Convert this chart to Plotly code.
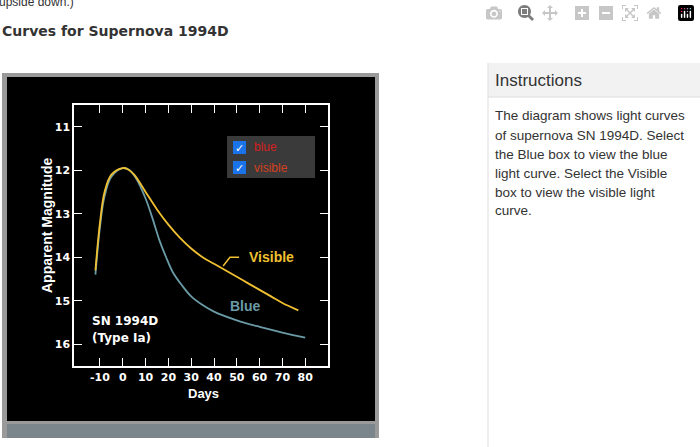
import plotly.graph_objects as go

vis_days = [-12, -10, -8, -5, 0, 2, 5, 10, 15, 20, 25, 30, 35, 40, 45, 50, 55, 60, 65, 70, 77]
vis_mag = [14.3, 13.2, 12.5, 12.1, 11.95, 11.97, 12.1, 12.5, 12.9, 13.25, 13.55, 13.8, 14.0, 14.15, 14.3, 14.45, 14.6, 14.75, 14.9, 15.05, 15.22]
blue_days = [-12, -10, -8, -5, 0, 3, 6, 10, 13, 16, 19, 22, 26, 30, 35, 40, 50, 60, 70, 80]
blue_mag = [14.4, 13.3, 12.6, 12.15, 11.95, 12.0, 12.2, 12.65, 13.1, 13.6, 14.0, 14.35, 14.65, 14.9, 15.1, 15.25, 15.45, 15.6, 15.73, 15.85]
x_ticks = [-10, 0, 10, 20, 30, 40, 50, 60, 70, 80]
y_ticks = [11, 12, 13, 14, 15, 16]

W, H = 700, 447
def px(x): return x / W
def py(y): return 1 - y / H

fig = go.Figure()
fig.add_trace(go.Scatter(x=blue_days, y=blue_mag, mode="lines", line=dict(color="#6a9ba6", width=1.8, shape="spline"), showlegend=False))
fig.add_trace(go.Scatter(x=vis_days, y=vis_mag, mode="lines", line=dict(color="#f0c030", width=1.8, shape="spline"), showlegend=False))

shapes = [
    dict(type="rect", xref="paper", yref="paper", x0=px(2), x1=px(379), y0=py(438), y1=py(73), fillcolor="#9a9a9a", line=dict(width=0), layer="below"),
    dict(type="rect", xref="paper", yref="paper", x0=px(7), x1=px(375), y0=py(421), y1=py(77), fillcolor="#000000", line=dict(width=0), layer="below"),
    dict(type="rect", xref="paper", yref="paper", x0=px(7), x1=px(375), y0=py(438), y1=py(424), fillcolor="#7b868c", line=dict(width=0), layer="below"),
    dict(type="rect", xref="paper", yref="paper", x0=px(488), x1=px(700), y0=py(97), y1=py(63), fillcolor="#f2f2f2", line=dict(width=0)),
    dict(type="line", xref="paper", yref="paper", x0=px(488), x1=px(488), y0=py(447), y1=py(63), line=dict(color="#dddddd", width=1)),
    dict(type="line", xref="paper", yref="paper", x0=px(488), x1=px(700), y0=py(97), y1=py(97), line=dict(color="#dddddd", width=1)),
    dict(type="rect", xref="paper", yref="paper", x0=px(227), x1=px(315), y0=py(178), y1=py(136), fillcolor="#3a3a3a", line=dict(width=0)),
    dict(type="rect", xref="paper", yref="paper", x0=px(233), x1=px(246), y0=py(154), y1=py(141), fillcolor="#1a73e8", line=dict(width=0)),
    dict(type="rect", xref="paper", yref="paper", x0=px(233), x1=px(246), y0=py(174), y1=py(161), fillcolor="#1a73e8", line=dict(width=0)),
    dict(type="path", xref="x", yref="y", path="M 44,14.2 L 47,14.0 L 51,14.0", line=dict(color="#f0c030", width=1.5)),
]

def ann(x, y, text, size, color, anchor="left", bold=False, family="DejaVu Sans"):
    return dict(xref="paper", yref="paper", x=px(x), y=py(y), text=("<b>%s</b>" % text) if bold else text,
                showarrow=False, xanchor=anchor, yanchor="middle", font=dict(size=size, color=color, family=family))

annotations = [
    ann(-3, 2, "upside down.)", 12, "#333333", family="Liberation Sans"),
    ann(0, 31, "Curves for Supernova 1994D", 14, "#333333", bold=True),
    ann(493, 80, "Instructions", 17, "#333333", family="Liberation Sans"),
    ann(493, 116, "The diagram shows light curves", 13.5, "#333333", family="Liberation Sans"),
    ann(493, 135, "of supernova SN 1994D. Select", 13.5, "#333333", family="Liberation Sans"),
    ann(493, 154, "the Blue box to view the blue", 13.5, "#333333", family="Liberation Sans"),
    ann(493, 173, "light curve. Select the Visible", 13.5, "#333333", family="Liberation Sans"),
    ann(493, 192, "box to view the visible light", 13.5, "#333333", family="Liberation Sans"),
    ann(493, 210, "curve.", 13.5, "#333333", family="Liberation Sans"),
    ann(239.5, 148, "✓", 11, "white", anchor="center", bold=True),
    ann(239.5, 168, "✓", 11, "white", anchor="center", bold=True),
    ann(252, 147, "blue", 12, "#d42020", family="Liberation Sans"),
    ann(252, 168, "visible", 12, "#d44020", family="Liberation Sans"),
    ann(247, 257, "Visible", 14, "#f0c030", bold=True, family="Liberation Sans"),
    ann(228, 306, "Blue", 14, "#6a9ba6", bold=True, family="Liberation Sans"),
    ann(90, 321, "SN 1994D", 12, "white", bold=True),
    ann(90, 338, "(Type Ia)", 12, "white", bold=True),
    dict(xref="paper", yref="paper", x=px(37), y=py(225), text="<b>Apparent Magnitude</b>", textangle=-90,
         showarrow=False, font=dict(size=14, color="white", family="Liberation Sans")),
    ann(203, 393, "Days", 13, "white", anchor="center", bold=True, family="Liberation Sans"),
]

fig.update_layout(
    width=W, height=H, margin=dict(l=0, r=0, t=0, b=0),
    paper_bgcolor="white", plot_bgcolor="black",
    shapes=shapes, annotations=annotations,
    xaxis=dict(domain=[px(74), px(328)], range=[-21.4, 90], tickvals=x_ticks,
               ticktext=["<b>%d</b>" % v for v in x_ticks], ticks="inside", ticklen=8, tickcolor="white",
               showline=True, linecolor="white", linewidth=1.5, mirror="ticks", showgrid=False, zeroline=False,
               tickfont=dict(color="white", size=11, family="DejaVu Sans")),
    yaxis=dict(domain=[py(366), py(105)], range=[16.5, 10.5], tickvals=y_ticks,
               ticktext=["<b>%d</b>" % v for v in y_ticks], ticks="inside", ticklen=8, tickcolor="white",
               showline=True, linecolor="white", linewidth=1.5, mirror="ticks", showgrid=False, zeroline=False,
               tickfont=dict(color="white", size=11, family="DejaVu Sans")),
)
fig.write_html("out.html", post_script="document.body.style.margin='0';document.body.style.overflow='hidden';")
